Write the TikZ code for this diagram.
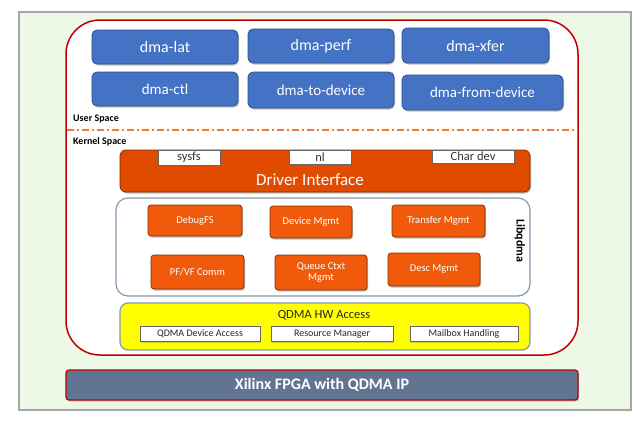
\documentclass[tikz,border=0pt]{standalone}
\usepackage{fontspec}
\setmainfont{Carlito}
\usetikzlibrary{shadows}
\definecolor{bgreen}{HTML}{EEF8E6}
\definecolor{frameg}{HTML}{A6A6A6}
\definecolor{cred}{HTML}{C00000}
\definecolor{bblue}{HTML}{4472C4}
\definecolor{bblued}{HTML}{2F4F8F}
\definecolor{dorange}{HTML}{E14B00}
\definecolor{sorange}{HTML}{F05A0A}
\definecolor{oborder}{HTML}{7F2E00}
\definecolor{dashor}{HTML}{ED7D31}
\definecolor{libb}{HTML}{8497B0}
\definecolor{yel}{HTML}{FFFF00}
\definecolor{fpga}{HTML}{617593}
\tikzset{
  ubox/.style={draw=bblued, line width=0.8pt, fill=bblue, rounded corners=5pt, text=white, font=\fontsize{16}{18}\selectfont, drop shadow={shadow xshift=1pt, shadow yshift=-1.5pt, opacity=0.5}},
  obox/.style={draw=oborder, line width=0.7pt, fill=sorange, rounded corners=3pt, text=white, font=\fontsize{10.5}{11.5}\selectfont, align=center, drop shadow={shadow xshift=1pt, shadow yshift=-1.5pt, opacity=0.5}},
  tabbox/.style={draw=black!60, line width=0.6pt, fill=white, text=black!80, font=\fontsize{12.5}{13}\selectfont, inner sep=0pt, drop shadow={shadow xshift=1pt, shadow yshift=-1pt, opacity=0.4}},
  subbox/.style={draw=black!60, line width=0.6pt, fill=white, text=black!85, font=\fontsize{10}{11}\selectfont, inner sep=0pt, drop shadow={shadow xshift=1pt, shadow yshift=-1pt, opacity=0.4}},
  lbl/.style={font=\bfseries\fontsize{10}{11}\selectfont, anchor=west, inner sep=0pt},
}
\begin{document}
\begin{tikzpicture}[x=1pt,y=-1pt]
\useasboundingbox (0,0) rectangle (640,424);
% outer green frame
\node[draw=frameg, line width=1.5pt, fill=bgreen, minimum width=612pt, minimum height=398pt, inner sep=0pt] (frame) at (325,211) {};
% kernel/user container
\node[draw=cred, line width=1.5pt, fill=white, rounded corners=34pt, minimum width=512pt, minimum height=335pt, inner sep=0pt] (cont) at (322,187.5) {};
% user space boxes
\node[ubox, minimum width=146pt, minimum height=34pt] (lat) at (165,47) {dma-lat};
\node[ubox, minimum width=146pt, minimum height=34pt] (perf) at (321,46) {dma-perf};
\node[ubox, minimum width=147pt, minimum height=35pt] (xfer) at (475.5,45.5) {dma-xfer};
\node[ubox, minimum width=146pt, minimum height=34pt, font=\fontsize{15}{17}\selectfont] (ctl) at (165,89) {dma-ctl};
\node[ubox, minimum width=146pt, minimum height=36pt, font=\fontsize{15}{17}\selectfont] (tod) at (321,90) {dma-to-device};
\node[ubox, minimum width=161pt, minimum height=35pt, font=\fontsize{15}{17}\selectfont] (fromd) at (482.5,92.5) {dma-from-device};
\node[lbl] (us) at (73,119) {User Space};
\coordinate (dl) at (67,130);
\coordinate (dr) at (577,130);
\draw[dashor, line width=1.6pt, dash pattern=on 7pt off 3pt on 2pt off 3pt] (dl) -- (dr);
\node[lbl] (ks) at (73,142) {Kernel Space};
% driver interface
\node[draw=oborder, line width=0.8pt, fill=dorange, rounded corners=6pt, minimum width=410pt, minimum height=42pt, inner sep=0pt, drop shadow={shadow xshift=1pt, shadow yshift=-1.5pt, opacity=0.5}] (drv) at (325,171) {};
\node[text=white, font=\fontsize{17}{19}\selectfont] (drvt) at (310,180) {Driver Interface};
\node[tabbox, minimum width=62pt, minimum height=15pt] (sysfs) at (189,157.5) {sysfs};
\node[tabbox, minimum width=62pt, minimum height=14pt] (nl) at (320,157) {nl};
\node[tabbox, minimum width=82pt, minimum height=13pt] (chardev) at (473,156.5) {Char dev};
% libqdma
\node[draw=libb, line width=1.2pt, fill=white, rounded corners=12pt, minimum width=414pt, minimum height=98pt, inner sep=0pt] (lib) at (323,247) {};
\node[rotate=-90, font=\bfseries\fontsize{12}{13}\selectfont] (libt) at (520,241) {Libqdma};
\node[obox, minimum width=94pt, minimum height=31pt] (dbg) at (195,220.5) {DebugFS};
\node[obox, minimum width=82pt, minimum height=32pt] (dev) at (311,222) {Device Mgmt};
\node[obox, minimum width=93pt, minimum height=32pt] (xm) at (438.5,221) {Transfer Mgmt};
\node[obox, minimum width=93pt, minimum height=34pt] (pf) at (197.5,272) {PF/VF Comm};
\node[obox, minimum width=92pt, minimum height=35pt] (qc) at (321,272.5) {Queue Ctxt\\Mgmt};
\node[obox, minimum width=92pt, minimum height=33pt] (desc) at (434,269.5) {Desc Mgmt};
% HW access
\node[draw=libb, line width=1.2pt, fill=yel, rounded corners=8pt, minimum width=410pt, minimum height=47pt, inner sep=0pt] (hw) at (325,326.5) {};
\node[font=\fontsize{12.5}{13}\selectfont, text=black!85] (hwt) at (324,315) {QDMA HW Access};
\node[subbox, minimum width=120pt, minimum height=15pt] (qda) at (200,334) {QDMA Device Access};
\node[subbox, minimum width=122pt, minimum height=15pt] (rm) at (332,334) {Resource Manager};
\node[subbox, minimum width=108pt, minimum height=15pt] (mb) at (464,334) {Mailbox Handling};
% FPGA
\node[draw=cred, line width=1.3pt, fill=fpga, rounded corners=3pt, minimum width=512pt, minimum height=30pt, inner sep=0pt, text=white, font=\bfseries\fontsize{16}{18}\selectfont, drop shadow={shadow xshift=1pt, shadow yshift=-1.5pt, opacity=0.4}] (fpgan) at (322,385) {Xilinx FPGA with QDMA IP};
\end{tikzpicture}
\end{document}
